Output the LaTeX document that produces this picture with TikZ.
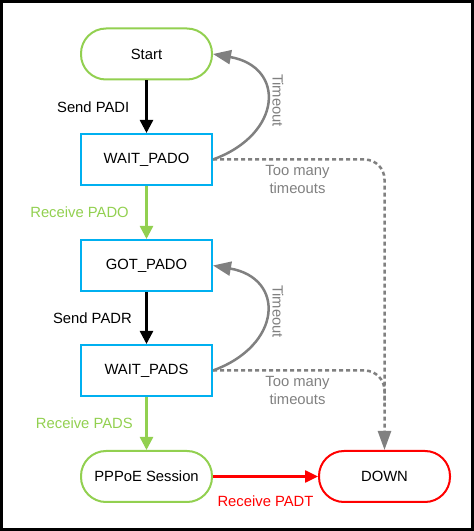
\documentclass[tikz,border=0pt]{standalone}
\usepackage{fontspec}
\setmainfont{Liberation Sans}
\usetikzlibrary{arrows.meta}
\definecolor{stategreen}{HTML}{92D050}
\definecolor{stateblue}{HTML}{00B0F0}
\definecolor{statered}{HTML}{FF0000}
\definecolor{timegray}{HTML}{808080}
\tikzset{
	every node/.style={font=\fontsize{14.8}{18}\selectfont},
	waitbox/.style={draw=stateblue, line width=2pt, minimum width=131pt, minimum height=51pt, inner sep=0pt},
	endbox/.style={rounded corners=25pt, line width=2pt, minimum width=131pt, minimum height=51pt, inner sep=0pt},
	edgelabel/.style={inner sep=0pt},
	sendarrow/.style={line width=2.5pt, -{Triangle[length=13pt,width=13pt]}},
	recvarrow/.style={line width=2.5pt, color=stategreen, -{Triangle[length=13pt,width=13pt]}},
	padtarrow/.style={line width=2.5pt, color=statered, -{Triangle[length=13pt,width=12pt]}},
	timeoutarrow/.style={line width=2.5pt, color=timegray, -{Triangle[length=18pt,width=14pt]}},
	manyline/.style={line width=2.5pt, color=timegray, dash pattern=on 4pt off 3pt, rounded corners=20pt},
	manyarrow/.style={manyline, -{Triangle[length=19pt,width=13pt]}},
	graylabel/.style={text=timegray, inner sep=0pt}
}

\begin{document}
\begin{tikzpicture}[x=1pt, y=1pt]
		%%%%% START %%%%%
		
		\useasboundingbox (0, 0) rectangle (474, 531);
		\draw[line width=3pt] (1.5, 1.5) rectangle (472.5, 529.5);
		
		\node[endbox, draw=stategreen] (start) at (146.5, 477) {Start};
		\node[waitbox] (waitpado) at (146.5, 371.5) {WAIT\_PADO};
		\node[waitbox] (gotpado) at (146.5, 265.5) {GOT\_PADO};
		\node[waitbox] (waitpads) at (146.5, 160.5) {WAIT\_PADS};
		\node[endbox, draw=stategreen] (session) at (146.5, 54.5) {PPPoE Session};
		\node[endbox, draw=statered] (down) at (384.5, 54.5) {DOWN};
		
		\draw[sendarrow] (start) -- node[edgelabel, left=16pt] {Send PADI} (waitpado);
		\draw[recvarrow] (waitpado) -- node[edgelabel, left=16.5pt] {Receive PADO} (gotpado);
		\draw[sendarrow] (gotpado) -- node[edgelabel, left=13.5pt] {Send PADR} (waitpads);
		\draw[recvarrow] (waitpads) -- node[edgelabel, left=12.5pt] {Receive PADS} (session);
		\draw[padtarrow] (session) -- node[edgelabel, yshift=-25pt] {Receive PADT} (down);
		
		\draw[timeoutarrow] (waitpado.east) to[out=20, in=-10, looseness=1.8] (start.east);
		\node[graylabel, rotate=-90] (timeout1) at (278, 430.5) {Timeout};
		\draw[timeoutarrow] (waitpads.east) to[out=20, in=-10, looseness=1.8] (gotpado.east);
		\node[graylabel, rotate=-90] (timeout2) at (278, 219.5) {Timeout};
		
		\coordinate (merge) at (384.5, 125);
		\draw[manyarrow] (waitpado.east) -| (down.north);
		\draw[manyline] (waitpads.east) -| (merge);
		\node[graylabel, align=center] (many1) at (297.5, 352) {Too many\\timeouts};
		\node[graylabel, align=center] (many2) at (297.5, 141) {Too many\\timeouts};
		
		%%%%% END %%%%%
	\end{tikzpicture}
\end{document}
